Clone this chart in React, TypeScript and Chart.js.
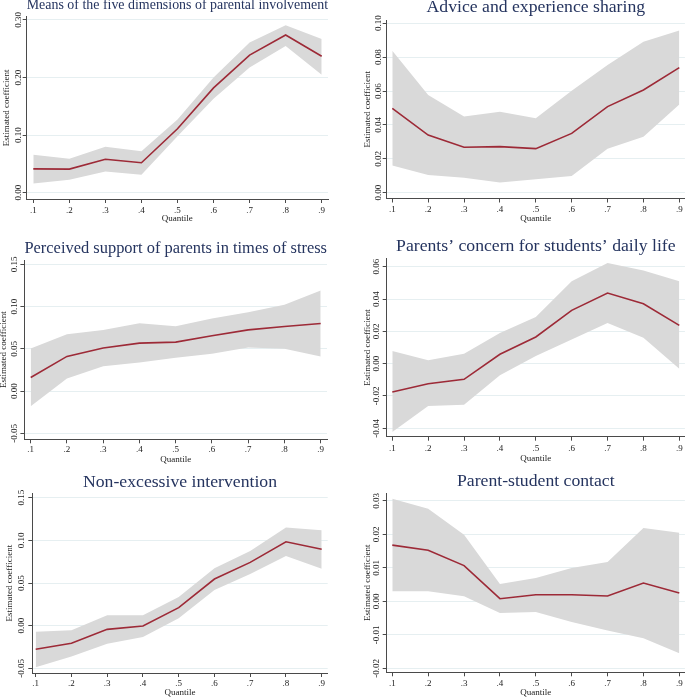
import React, { useEffect, useRef } from "react";
import { Chart, registerables } from "chart.js";

Chart.register(...registerables);

// ---------- data ----------
const quantiles = [0.1, 0.2, 0.3, 0.4, 0.5, 0.6, 0.7, 0.8, 0.9];
const quantileLabels = [".1", ".2", ".3", ".4", ".5", ".6", ".7", ".8", ".9"];

const panelTitles = [
  "Means of the five dimensions of parental involvement",
  "Advice and experience sharing",
  "Perceived support of parents in times of stress",
  "Parents\u2019 concern for students\u2019 daily life",
  "Non-excessive intervention",
  "Parent-student contact",
];

const meansCoef = [0.0415, 0.041, 0.058, 0.052, 0.111, 0.182, 0.239, 0.274, 0.237];
const meansUpper = [0.066, 0.059, 0.08, 0.072, 0.127, 0.2, 0.261, 0.291, 0.267];
const meansLower = [0.016, 0.0225, 0.037, 0.031, 0.098, 0.163, 0.2175, 0.255, 0.205];
const meansTicks = [0, 0.1, 0.2, 0.3];

const adviceCoef = [0.0498, 0.034, 0.0268, 0.0272, 0.026, 0.035, 0.0508, 0.0606, 0.0738];
const adviceUpper = [0.0837, 0.0577, 0.0449, 0.0478, 0.0439, 0.0602, 0.0754, 0.089, 0.0957];
const adviceLower = [0.0161, 0.0104, 0.0089, 0.0061, 0.0079, 0.0098, 0.026, 0.033, 0.052];
const adviceTicks = [0, 0.02, 0.04, 0.06, 0.08, 0.1];

const supportCoef = [0.016, 0.041, 0.051, 0.0567, 0.0579, 0.0654, 0.0724, 0.0764, 0.08];
const supportUpper = [0.0504, 0.0673, 0.0724, 0.0803, 0.0768, 0.0858, 0.0933, 0.102, 0.119];
const supportLower = [-0.018, 0.015, 0.0295, 0.0339, 0.0394, 0.0441, 0.0516, 0.05, 0.041];
const supportTicks = [-0.05, 0, 0.05, 0.1, 0.15];

const concernCoef = [-0.0175, -0.0124, -0.0097, 0.0058, 0.0165, 0.033, 0.0437, 0.0371, 0.0237];
const concernUpper = [0.0078, 0.0021, 0.0062, 0.019, 0.0289, 0.051, 0.0623, 0.0577, 0.051];
const concernLower = [-0.0423, -0.0262, -0.0254, -0.0072, 0.0047, 0.015, 0.0252, 0.0161, -0.0031];
const concernTicks = [-0.04, -0.02, 0, 0.02, 0.04, 0.06];

const interventionCoef = [-0.0277, -0.0207, -0.0043, -0.0004, 0.0211, 0.0547, 0.0742, 0.0984, 0.0895];
const interventionUpper = [-0.007, -0.0055, 0.0121, 0.0121, 0.0336, 0.0672, 0.0875, 0.1152, 0.112];
const interventionLower = [-0.0488, -0.0363, -0.0211, -0.0133, 0.0086, 0.0418, 0.0605, 0.0816, 0.0668];
const interventionTicks = [-0.05, 0, 0.05, 0.1, 0.15];

const contactCoef = [0.0168, 0.0153, 0.0107, 0.0008, 0.002, 0.002, 0.0016, 0.0055, 0.0025];
const contactUpper = [0.0307, 0.0277, 0.0199, 0.0052, 0.007, 0.01, 0.0118, 0.0219, 0.0205];
const contactLower = [0.003, 0.003, 0.0015, -0.0035, -0.0032, -0.0062, -0.0087, -0.011, -0.0155];
const contactTicks = [-0.02, -0.01, 0, 0.01, 0.02, 0.03];

const panelSeries = [
  { coef: meansCoef, upper: meansUpper, lower: meansLower, ticks: meansTicks },
  { coef: adviceCoef, upper: adviceUpper, lower: adviceLower, ticks: adviceTicks },
  { coef: supportCoef, upper: supportUpper, lower: supportLower, ticks: supportTicks },
  { coef: concernCoef, upper: concernUpper, lower: concernLower, ticks: concernTicks },
  { coef: interventionCoef, upper: interventionUpper, lower: interventionLower, ticks: interventionTicks },
  { coef: contactCoef, upper: contactUpper, lower: contactLower, ticks: contactTicks },
];

// ---------- axis ranges ----------
const axisRanges = [
  { xMin: 0.0817, xMax: 0.9175, yMin: -0.0109, yMax: 0.3057 },
  { xMin: 0.0844, xMax: 0.9156, yMin: -0.0034, yMax: 0.1019 },
  { xMin: 0.0826, xMax: 0.9174, yMin: -0.0571, yMax: 0.1551 },
  { xMin: 0.0844, xMax: 0.9156, yMin: -0.0452, yMax: 0.0652 },
  { xMin: 0.0905, xMax: 0.9168, yMin: -0.0555, yMax: 0.1552 },
  { xMin: 0.0844, xMax: 0.9156, yMin: -0.0212, yMax: 0.0323 },
];

// ---------- layout (page pixels) ----------
const panelLayouts = [
  { canvasLeft: -6, titleSize: 14.2, titleBaseline: 9.5, plotLeft: 26.7, plotRight: 328, plotTop: 16.7, plotBottom: 199, yLabelX: 18.5, yTitleX: 6.7, xLabelY: 210.5, xTitleY: 218.5 },
  { canvasLeft: 345, titleSize: 17.7, titleBaseline: 13.3, plotLeft: 386.7, plotRight: 684.9, plotTop: 20, plotBottom: 198.5, yLabelX: 379, yTitleX: 367.5, xLabelY: 209.5, xTitleY: 219 },
  { canvasLeft: -6, titleSize: 17.7, titleBaseline: 254, plotLeft: 24.4, plotRight: 327, plotTop: 260, plotBottom: 439.3, yLabelX: 15, yTitleX: 4, xLabelY: 450, xTitleY: 460 },
  { canvasLeft: 345, titleSize: 17.7, titleBaseline: 251.7, plotLeft: 386.7, plotRight: 684.9, plotTop: 258.3, plotBottom: 436.7, yLabelX: 376.7, yTitleX: 367.5, xLabelY: 448.3, xTitleY: 458.5 },
  { canvasLeft: -6, titleSize: 17.7, titleBaseline: 488, plotLeft: 32.3, plotRight: 327.7, plotTop: 493.3, plotBottom: 673, yLabelX: 21.7, yTitleX: 10, xLabelY: 684, xTitleY: 693 },
  { canvasLeft: 345, titleSize: 17.7, titleBaseline: 487.3, plotLeft: 386.7, plotRight: 684.9, plotTop: 493.3, plotBottom: 672.3, yLabelX: 377, yTitleX: 368, xLabelY: 684, xTitleY: 693 },
];

const FONT = '"Liberation Serif", "Times New Roman", serif';
const TITLE_COLOR = "#25345f";
const TEXT_COLOR = "#222222";
const AXIS_COLOR = "#4a4a4a";
const GRID_COLOR = "#e6eff1";
const LINE_COLOR = "#9d2a37";
const BAND_COLOR = "#d9d9d9";

type Layout = (typeof panelLayouts)[number];

function geometry(L: Layout) {
  const fs = L.titleSize;
  const ct = Math.floor(L.titleBaseline - 0.92 * fs - 2);
  const cl = L.canvasLeft;
  const cw = Math.ceil(L.plotRight + 5 - cl);
  const ch = Math.ceil(L.xTitleY + 10 - ct);
  const middle = L.titleBaseline - 0.32 * fs;
  const titlePadTop = middle - ct - 0.6 * fs;
  const titlePadBottom = L.plotTop - ct - titlePadTop - 1.2 * fs;
  return {
    cl,
    ct,
    cw,
    ch,
    padRight: cl + cw - L.plotRight,
    yWidth: L.plotLeft - cl,
    xHeight: ct + ch - L.plotBottom,
    xTickPad: L.xLabelY - L.plotBottom - 4 - 5.4,
    xTitlePadBottom: ct + ch - L.xTitleY - 5.4,
    yTitlePadTop: L.yTitleX - cl - 5.4,
    yLabelX: L.yLabelX - cl,
    titlePadTop,
    titlePadBottom,
  };
}

const rotatedYTicks = {
  id: "rotatedYTicks",
  afterDraw(chart: any, _args: any, opts: any) {
    const s = chart.scales.y;
    const ctx = chart.ctx;
    ctx.save();
    ctx.font = `9px ${FONT}`;
    ctx.fillStyle = TEXT_COLOR;
    ctx.textAlign = "center";
    ctx.textBaseline = "middle";
    for (const t of s.ticks) {
      const y = s.getPixelForValue(t.value);
      ctx.save();
      ctx.translate(opts.x, y);
      ctx.rotate(-Math.PI / 2);
      ctx.fillText(Number(t.value).toFixed(2), 0, 0);
      ctx.restore();
    }
    ctx.restore();
  },
};

function Panel({ index }: { index: number }) {
  const ref = useRef<HTMLCanvasElement>(null);
  const L = panelLayouts[index];
  const g = geometry(L);

  useEffect(() => {
    const canvas = ref.current;
    if (!canvas) return;
    const series = panelSeries[index];
    const range = axisRanges[index];
    const toPts = (arr: number[]) => quantiles.map((q, i) => ({ x: q, y: arr[i] }));
    const axisFont = { family: FONT, size: 9, weight: "normal" as const, lineHeight: 1.2 };

    const chart = new Chart(canvas, {
      type: "line",
      data: {
        datasets: [
          {
            label: "coef",
            data: toPts(series.coef),
            borderColor: LINE_COLOR,
            borderWidth: 1.6,
            pointRadius: 0,
            fill: false,
            tension: 0,
            order: 0,
          },
          {
            label: "lower",
            data: toPts(series.lower),
            borderWidth: 0,
            borderColor: "rgba(0,0,0,0)",
            pointRadius: 0,
            fill: false,
            order: 1,
          },
          {
            label: "upper",
            data: toPts(series.upper),
            borderWidth: 0,
            borderColor: "rgba(0,0,0,0)",
            backgroundColor: BAND_COLOR,
            pointRadius: 0,
            fill: 1,
            order: 2,
          },
        ],
      },
      options: {
        responsive: false,
        animation: false,
        devicePixelRatio: 1,
        layout: { padding: { left: 0, top: 0, right: g.padRight, bottom: 0 } },
        plugins: {
          legend: { display: false },
          tooltip: { enabled: false },
          title: {
            display: true,
            text: panelTitles[index],
            fullSize: false,
            color: TITLE_COLOR,
            font: { family: FONT, size: L.titleSize, weight: "normal", lineHeight: 1.2 },
            padding: { top: g.titlePadTop, bottom: g.titlePadBottom },
          },
          rotatedYTicks: { x: g.yLabelX },
        } as any,
        scales: {
          x: {
            type: "linear",
            min: range.xMin,
            max: range.xMax,
            afterBuildTicks: (s: any) => {
              s.ticks = quantiles.map((v) => ({ value: v }));
            },
            afterFit: (s: any) => {
              s.height = g.xHeight;
              s.paddingLeft = 0;
              s.paddingRight = 0;
            },
            ticks: {
              callback: (_v: any, i: number) => quantileLabels[i],
              font: axisFont,
              color: TEXT_COLOR,
              padding: g.xTickPad,
              autoSkip: false,
              maxRotation: 0,
              minRotation: 0,
            },
            grid: {
              display: true,
              drawOnChartArea: false,
              drawTicks: true,
              tickLength: 4,
              tickColor: AXIS_COLOR,
            },
            border: { display: true, color: AXIS_COLOR, width: 1 },
            title: {
              display: true,
              text: "Quantile",
              font: axisFont,
              color: TEXT_COLOR,
              padding: { top: 0, bottom: g.xTitlePadBottom },
            },
          },
          y: {
            type: "linear",
            min: range.yMin,
            max: range.yMax,
            afterBuildTicks: (s: any) => {
              s.ticks = series.ticks.map((v) => ({ value: v }));
            },
            afterFit: (s: any) => {
              s.width = g.yWidth;
              s.paddingTop = 0;
              s.paddingBottom = 0;
            },
            ticks: { display: false },
            grid: {
              display: true,
              color: GRID_COLOR,
              lineWidth: 1,
              drawTicks: true,
              tickLength: 4,
              tickColor: AXIS_COLOR,
            },
            border: { display: true, color: AXIS_COLOR, width: 1 },
            title: {
              display: true,
              text: "Estimated coefficient",
              font: axisFont,
              color: TEXT_COLOR,
              padding: { top: g.yTitlePadTop, bottom: 0 },
            },
          },
        },
      } as any,
      plugins: [rotatedYTicks],
    });
    return () => chart.destroy();
  }, [index]);

  return (
    <canvas
      ref={ref}
      width={g.cw}
      height={g.ch}
      style={{ position: "absolute", left: g.cl, top: g.ct, width: g.cw, height: g.ch }}
    />
  );
}

export default function App() {
  return (
    <div
      style={{
        position: "absolute",
        left: 0,
        top: 0,
        width: 685,
        height: 698,
        overflow: "hidden",
        background: "#ffffff",
      }}
    >
      {panelLayouts.map((_, i) => (
        <Panel key={i} index={i} />
      ))}
    </div>
  );
}
